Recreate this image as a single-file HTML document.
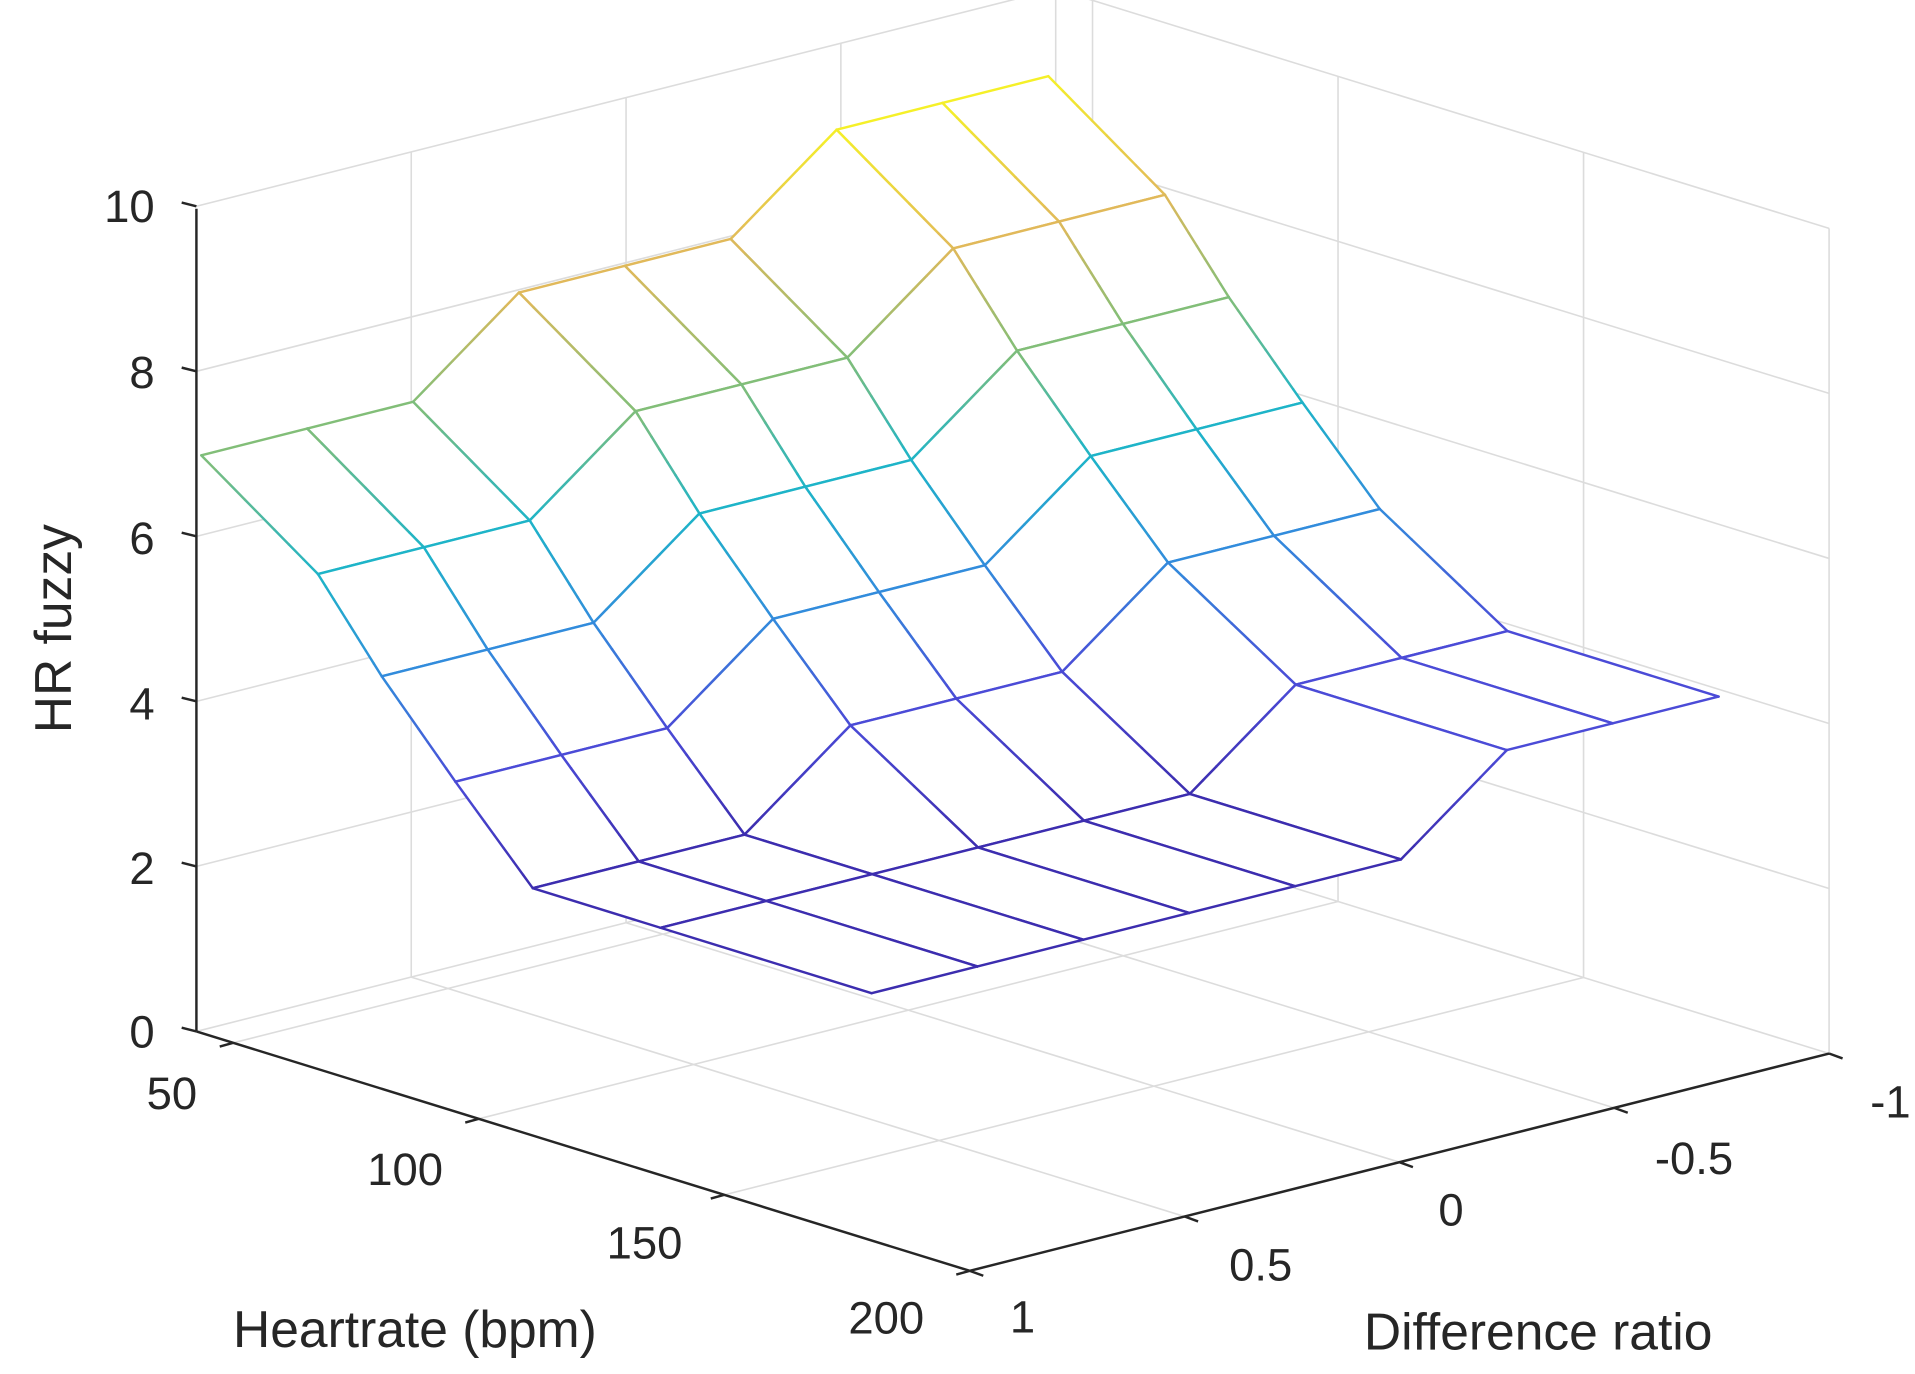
<!DOCTYPE html>
<html><head><meta charset="utf-8">
<style>
html,body{margin:0;padding:0;background:#fff;}
svg{display:block;}
text{font-family:"Liberation Sans",Arial,sans-serif;fill:#262626;}
</style></head>
<body>
<svg id="s" width="1915" height="1374" viewBox="0 0 1560 1119" preserveAspectRatio="none" xmlns="http://www.w3.org/2000/svg">
<rect width="1560" height="1119" fill="#fff"/>
<g id="grid" stroke="#dcdcdc" stroke-width="1.3" fill="none"></g>
<g id="surf"></g>
<g id="axes" stroke="#262626" stroke-width="2" fill="none">
<line x1="160" y1="840" x2="160" y2="170"/>
<line x1="160" y1="840" x2="790" y2="1035"/>
<line x1="790" y1="1035" x2="1490" y2="858"/>
</g>
<g id="ticks" stroke="#262626" stroke-width="2"></g>
<g font-size="37" text-anchor="end">
<text x="126" y="181">10</text>
<text x="126" y="316">8</text>
<text x="126" y="451">6</text>
<text x="126" y="586">4</text>
<text x="126" y="720">2</text>
<text x="126" y="853">0</text>
</g>
<g font-size="37" text-anchor="middle">
<text x="140" y="903">50</text>
<text x="330" y="965">100</text>
<text x="525" y="1025">150</text>
<text x="722" y="1086">200</text>
<text x="833" y="1085">1</text>
<text x="1027" y="1043">0.5</text>
<text x="1182" y="998">0</text>
<text x="1380" y="956">-0.5</text>
<text x="1540" y="910">-1</text>
</g>
<text x="338" y="1097" font-size="42" text-anchor="middle">Heartrate (bpm)</text>
<text x="1253" y="1099" font-size="42" text-anchor="middle">Difference ratio</text>
<text transform="translate(58,512) rotate(-90)" font-size="42" text-anchor="middle">HR fuzzy</text>
</svg>
<script>
(function(){
var NS="http://www.w3.org/2000/svg";
function el(p,n,a){var e=document.createElementNS(NS,n);for(var k in a)e.setAttribute(k,a[k]);p.appendChild(e);return e;}
var HRMIN=42.5, PX=4.0, PY=195/157.5;
function P(hr,d,z){var a=(hr-HRMIN);var b=(1-d)/2;return [160+a*PX+700*b, 840+a*PY-177*b-67.2*z];}
var g=document.getElementById('grid');
function L(p,q){el(g,'line',{x1:p[0],y1:p[1],x2:q[0],y2:q[1]});}
var hmax=200;
for(var z=0;z<=10;z+=2){L(P(HRMIN,1,z),P(HRMIN,-1,z));}
[0.5,0,-0.5,-1].forEach(function(d){L(P(HRMIN,d,0),P(HRMIN,d,10));});
for(var z=0;z<=10;z+=2){L(P(HRMIN,-1,z),P(hmax,-1,z));}
[50,100,150,200].forEach(function(h){L(P(h,-1,0),P(h,-1,10));});
[50,100,150].forEach(function(h){L(P(h,1,0),P(h,-1,0));});
[0.5,0,-0.5].forEach(function(d){L(P(HRMIN,d,0),P(hmax,d,0));});
var t=document.getElementById('ticks');
for(var z=0;z<=10;z+=2){var p=P(HRMIN,1,z);el(t,'line',{x1:p[0]-12,y1:p[1]-3,x2:p[0],y2:p[1]});}
[50,100,150,200].forEach(function(h){var p=P(h,1,0);el(t,'line',{x1:p[0],y1:p[1],x2:p[0]-11,y2:p[1]+3});});
[1,0.5,0,-0.5,-1].forEach(function(d){var p=P(200,d,0);el(t,'line',{x1:p[0],y1:p[1],x2:p[0]+11,y2:p[1]+4});});
var H=[4,99,151,211,274,378,550];
var base=[7,6,5,4,3,3,3];
function Z(i,j){var s=j<3?0:(j<6?1:2);if(i>=5)return j<6?3:4;return base[i]+s;}
function S(i,j){var h=H[i];return [160+h+86.25*j, 840+h*0.31-21.8*j-67.2*Z(i,j)];}
var stops=[[0,60,45,175],[0.167,75,75,215],[0.333,50,140,220],[0.5,30,180,200],[0.667,130,190,120],[0.833,225,185,90],[1,245,240,40]];
function col(z){var tt=(z-3)/6;tt=Math.max(0,Math.min(1,tt));for(var k=1;k<stops.length;k++){if(tt<=stops[k][0]){var a=stops[k-1],b=stops[k];var f=(tt-a[0])/(b[0]-a[0]);return 'rgb('+Math.round(a[1]+f*(b[1]-a[1]))+','+Math.round(a[2]+f*(b[2]-a[2]))+','+Math.round(a[3]+f*(b[3]-a[3]))+')';}}return 'rgb(245,240,40)';}
var sg=document.getElementById('surf');
function edge(i1,j1,i2,j2){var p=S(i1,j1),q=S(i2,j2),z1=Z(i1,j1),z2=Z(i2,j2);var n=(z1==z2)?1:8;for(var k=0;k<n;k++){var a=k/n,b=(k+1)/n;el(sg,'line',{x1:p[0]+(q[0]-p[0])*a,y1:p[1]+(q[1]-p[1])*a,x2:p[0]+(q[0]-p[0])*b,y2:p[1]+(q[1]-p[1])*b,stroke:col(z1+(z2-z1)*(a+b)/2),'stroke-width':2,'stroke-linecap':'round'});}}
var quads=[];
for(var i=0;i<6;i++)for(var j=0;j<8;j++)quads.push([i,j,(H[i]+H[i+1])/2/550+(8-j-0.5)/8]);
quads.sort(function(a,b){return a[2]-b[2];});
quads.forEach(function(qd){var i=qd[0],j=qd[1];var a=S(i,j),b=S(i,j+1),c=S(i+1,j+1),d=S(i+1,j);
el(sg,'polygon',{points:[a,b,c,d].map(function(p){return p[0]+','+p[1];}).join(' '),fill:'#fff',stroke:'none'});
edge(i,j,i,j+1);edge(i,j+1,i+1,j+1);edge(i+1,j+1,i+1,j);edge(i+1,j,i,j);});
})();
</script>
</body></html>
